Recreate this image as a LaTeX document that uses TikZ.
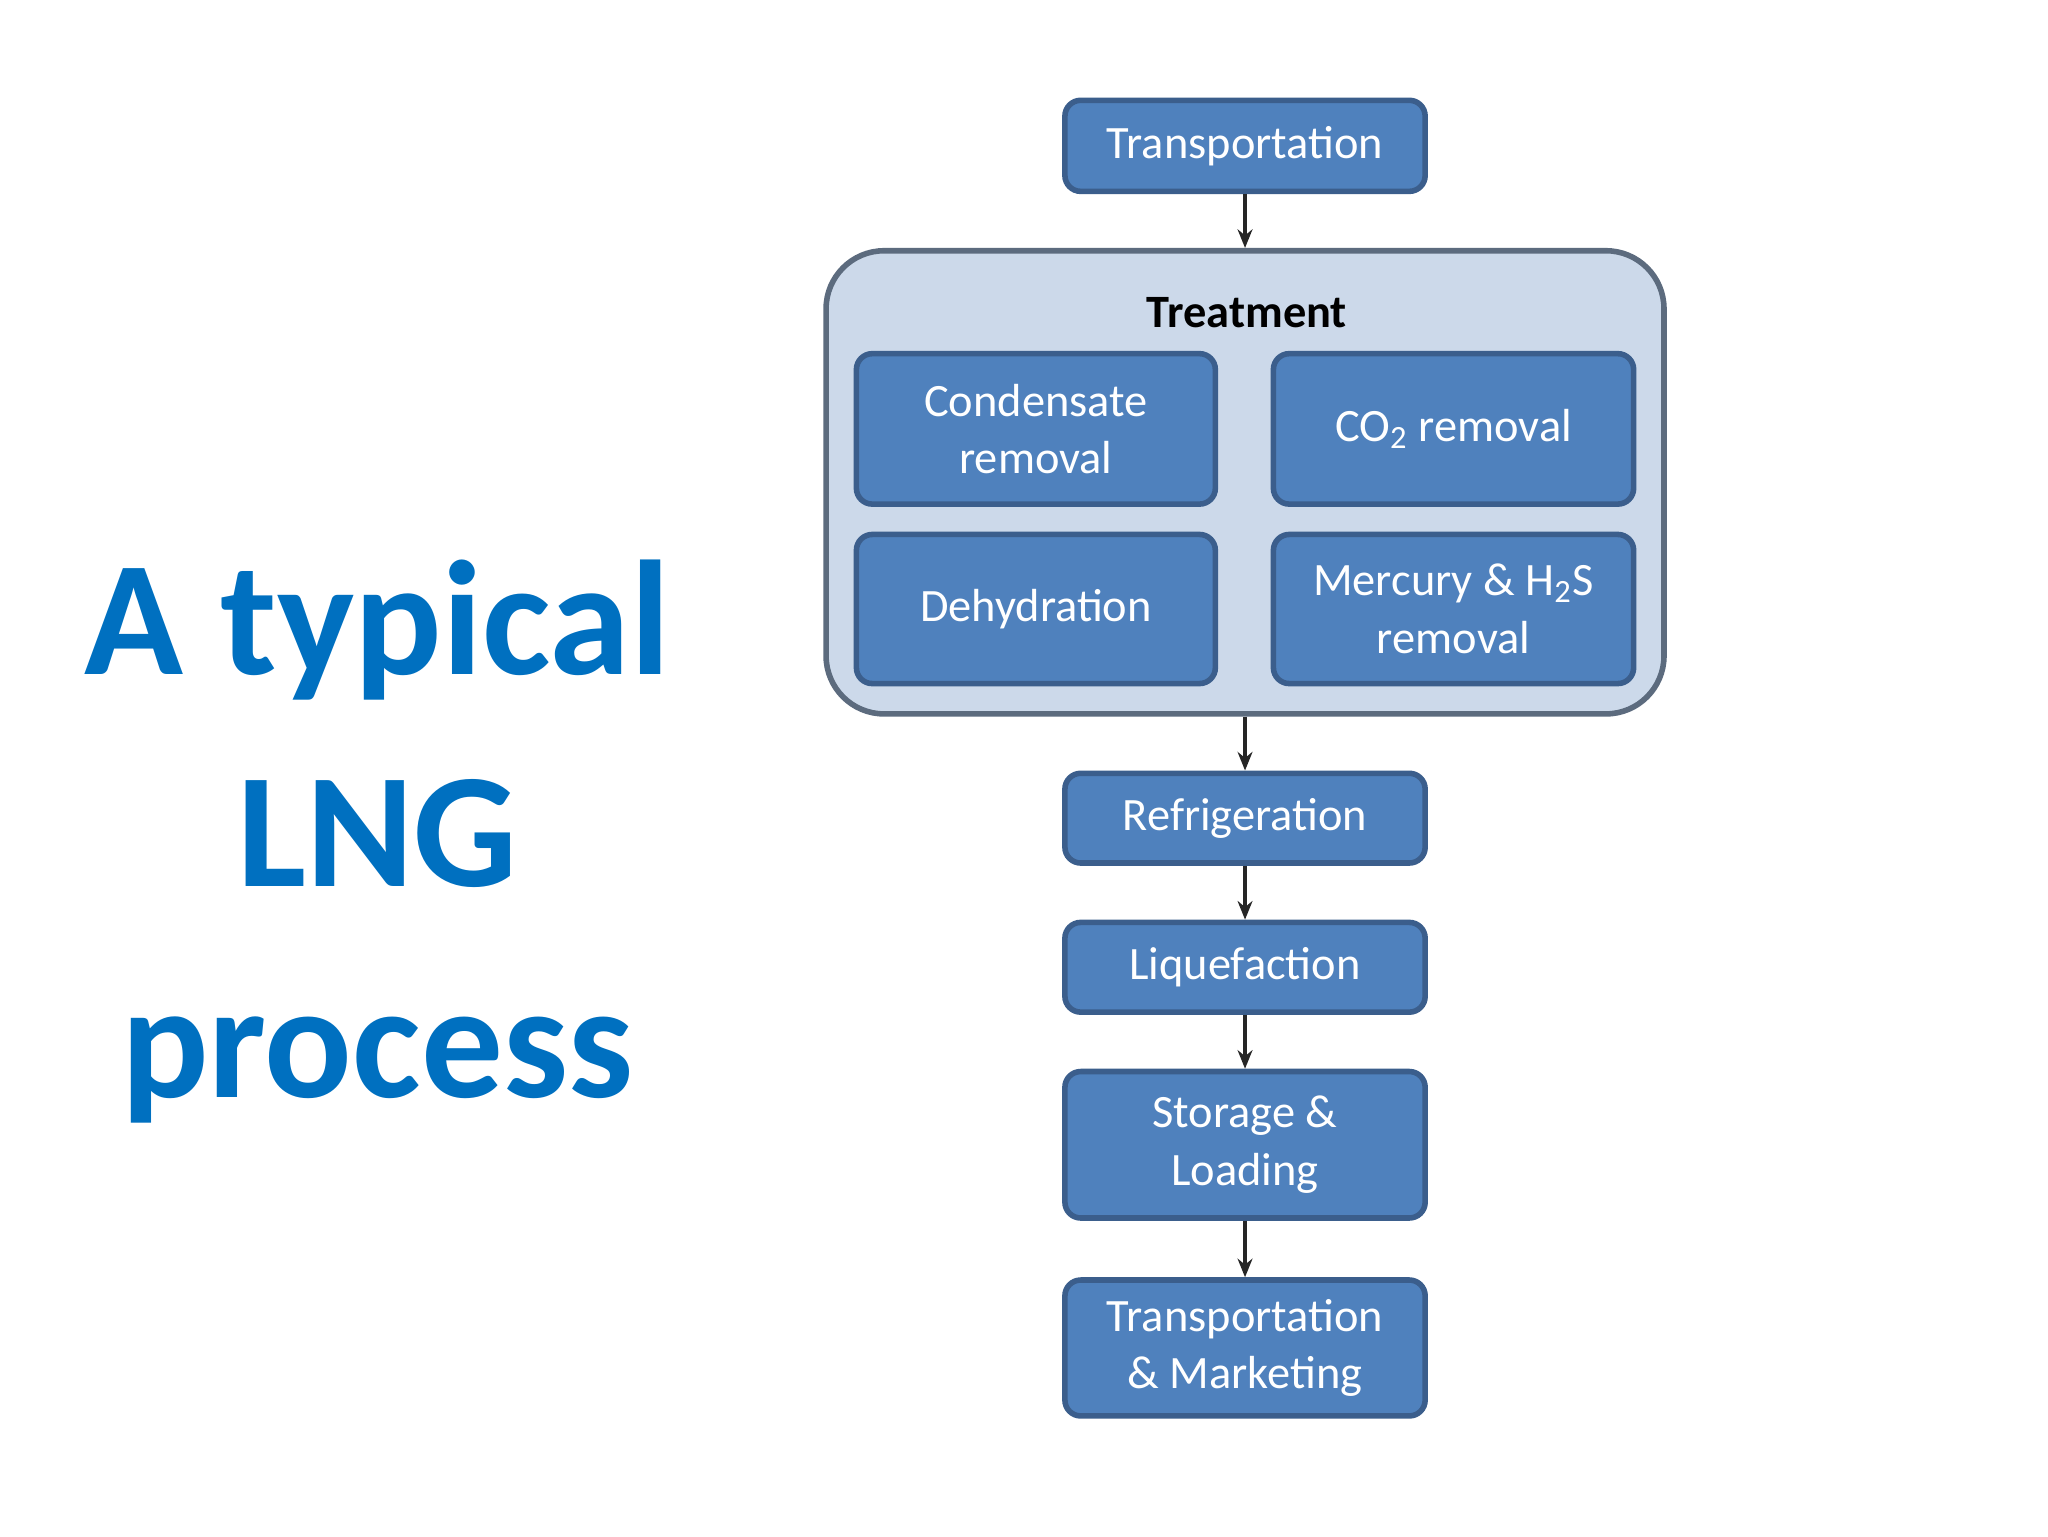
\documentclass[tikz,border=0pt]{standalone}
\usepackage{fontspec}
\setmainfont{Carlito}
\usetikzlibrary{arrows.meta}
\begin{document}
\begin{tikzpicture}[x=0.0125cm,y=-0.0125cm,
  box/.style={draw=boxborder,line width=1.5pt,fill=boxfill,rounded corners=0.15cm,text=white,font=\fontsize{12.5}{15.5}\selectfont,align=center,inner sep=0pt},
  arr/.style={-{Stealth[length=5pt,width=4pt]},line width=1.2pt,black!85}]
\definecolor{boxfill}{HTML}{4F81BD}
\definecolor{boxborder}{HTML}{3B5E8C}
\definecolor{contfill}{HTML}{CCD9EA}
\definecolor{contborder}{HTML}{5C6B7E}
\definecolor{titleblue}{HTML}{0070C0}
\useasboundingbox (0,0) rectangle (1552,1164);
\fill[white] (0,0) rectangle (1552,1164);
\node[text=titleblue,font=\fontsize{44}{57}\bfseries\selectfont,align=center] (title) at (286,638) {A typical\\LNG\\process};
\node[draw=contborder,line width=1.5pt,fill=contfill,rounded corners=0.55cm,minimum width=635*0.0125cm,minimum height=351*0.0125cm] (treat) at (943.5,365.5) {};
\node[font=\fontsize{12.5}{15}\bfseries\selectfont] (tlabel) at (945,237) {Treatment};
\node[box,minimum width=273*0.0125cm,minimum height=69*0.0125cm] (t1) at (943.5,110.5) {Transportation};
\node[box,minimum width=272*0.0125cm,minimum height=114*0.0125cm] (c1) at (785,325) {Condensate\\removal};
\node[box,minimum width=273*0.0125cm,minimum height=114*0.0125cm] (c2) at (1101.5,325) {CO\textsubscript{2} removal};
\node[box,minimum width=272*0.0125cm,minimum height=113*0.0125cm] (c3) at (785,461.5) {Dehydration};
\node[box,minimum width=273*0.0125cm,minimum height=113*0.0125cm] (c4) at (1101.5,461.5) {Mercury \& H\textsubscript{2}S\\removal};
\node[box,minimum width=273*0.0125cm,minimum height=68*0.0125cm] (r) at (943.5,620) {Refrigeration};
\node[box,minimum width=273*0.0125cm,minimum height=68*0.0125cm] (l) at (943.5,733) {Liquefaction};
\node[box,minimum width=273*0.0125cm,minimum height=111*0.0125cm] (s) at (943.5,867.5) {Storage \&\\Loading};
\node[box,minimum width=273*0.0125cm,minimum height=103*0.0125cm] (m) at (943.5,1021.5) {Transportation\\\& Marketing};
\draw[arr] (t1) -- (t1|-treat.north);
\draw[arr] (treat.south) -- (r);
\draw[arr] (r) -- (l);
\draw[arr] (l) -- (s);
\draw[arr] (s) -- (m);
\end{tikzpicture}
\end{document}
